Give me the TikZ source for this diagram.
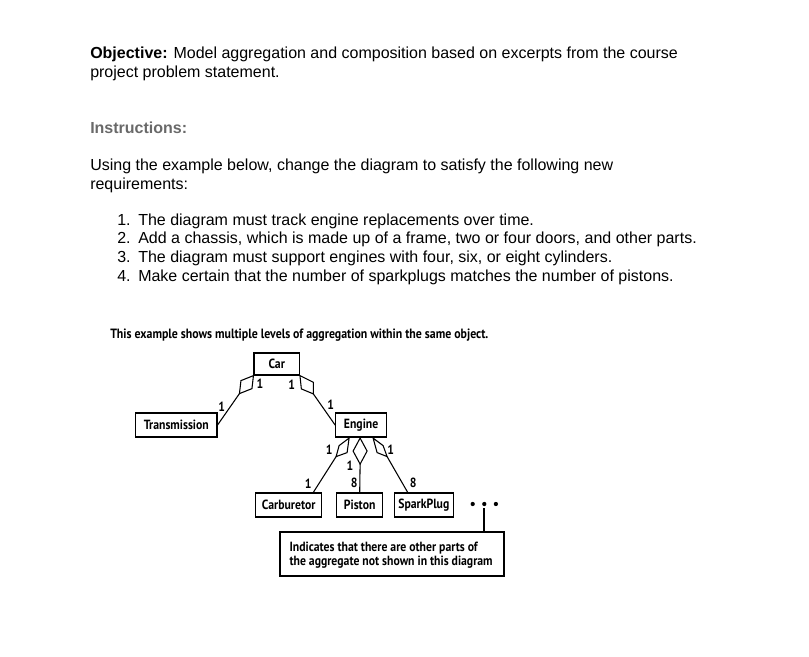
\documentclass[tikz,border=0pt]{standalone}
\usepackage{fontspec}
\setmainfont{Liberation Sans}
\newfontfamily\diafont[FakeStretch=0.88]{PT Sans}
\usetikzlibrary{calc}
\definecolor{instrgray}{RGB}{105,105,105}
\tikzset{
  body/.style={anchor=base west, inner sep=0pt, font=\fontsize{12}{14}\selectfont},
  umlbox/.style={draw, line width=0.9pt, inner sep=0pt, font=\diafont\bfseries\fontsize{10}{12}\selectfont},
  mult/.style={inner sep=0pt, font=\diafont\bfseries\fontsize{10}{12}\selectfont},
  notetxt/.style={anchor=base west, inner sep=0pt, font=\diafont\bfseries\fontsize{10}{12}\selectfont},
  conn/.style={line width=0.8pt},
  diam/.style={line width=0.8pt, fill=white, line join=miter},
  dotmark/.style={circle, fill=black, inner sep=0pt, minimum size=3.2pt},
}
\begin{document}
\begin{tikzpicture}[x=0.75pt, y=-0.75pt]
\useasboundingbox (0,0) rectangle (809,656);
% ---- text ----
\node[body] (obj1) at (90,59) {\textbf{Objective:} Model aggregation and composition based on excerpts from the course};
\node[body] (obj2) at (90,78) {project problem statement.};
\node[body, text=instrgray] (instr) at (90,133) {\textbf{Instructions:}};
\node[body] (use1) at (90,170) {Using the example below, change the diagram to satisfy the following new};
\node[body] (use2) at (90,189) {requirements:};
\node[body] (n1) at (117,225) {1.}; \node[body] (t1) at (138,225) {The diagram must track engine replacements over time.};
\node[body] (n2) at (117,243.7) {2.}; \node[body] (t2) at (138,243.7) {Add a chassis, which is made up of a frame, two or four doors, and other parts.};
\node[body] (n3) at (117,262.4) {3.}; \node[body] (t3) at (138,262.4) {The diagram must support engines with four, six, or eight cylinders.};
\node[body] (n4) at (117,281) {4.}; \node[body] (t4) at (138,281) {Make certain that the number of sparkplugs matches the number of pistons.};
% ---- caption ----
\node[anchor=base west, inner sep=0pt, font=\diafont\bfseries\fontsize{10.1}{12}\selectfont] (cap) at (110,338.5)
  {This example shows multiple levels of aggregation within the same object.};
% ---- boxes ----
\node[umlbox, minimum width=45.3*0.75pt, minimum height=22*0.75pt] (car) at (276.7,364) {Car};
\node[umlbox, minimum width=81.3*0.75pt, minimum height=24*0.75pt] (trans) at (176.3,425) {Transmission};
\node[umlbox, minimum width=50.8*0.75pt, minimum height=24*0.75pt] (engine) at (361.1,425) {Engine};
\node[umlbox, minimum width=66*0.75pt, minimum height=24*0.75pt] (carb) at (288.7,505) {Carburetor};
\node[umlbox, minimum width=46*0.75pt, minimum height=24*0.75pt] (piston) at (359.7,505) {Piston};
\node[umlbox, minimum width=59*0.75pt, minimum height=24*0.75pt] (spark) at (423.8,505) {SparkPlug};
\node[draw, line width=1.4pt, inner sep=0pt, minimum width=224*0.75pt, minimum height=44*0.75pt] (note) at (392.2,553.8) {};
\node[notetxt] (note1) at (289.3,551) {Indicates that there are other parts of};
\node[notetxt] (note2) at (289.3,565) {the aggregate not shown in this diagram};
% ---- dots ----
\node[dotmark] (d1) at (472.7,504) {};
\node[dotmark] (d2) at (484.3,504) {};
\node[dotmark] (d3) at (495.9,504) {};
\coordinate (ntop) at (484.3,531.8);
% ---- connectors ----
% Car - Transmission
\coordinate (a1) at (car.south west);
\draw[conn] ($(a1)+(-14,18)$) -- (trans.east);
\draw[diam] (a1) -- ++(-12.5,5) -- ++(-1.5,13) -- ++(12.5,-5) -- cycle;
% Car - Engine
\coordinate (a2) at (car.south east);
\draw[conn] ($(a2)+(13.4,18.3)$) -- (engine.west);
\draw[diam] (a2) -- ++(13.4,6.7) -- ++(0,11.6) -- ++(-12,-5) -- cycle;
% Engine - Carburetor
\coordinate (e1) at ($(engine.south)+(-12,0.5)$);
\draw[conn] ($(e1)+(-13,18.5)$) -- ($(carb.north east)+(-9,0)$);
\draw[diam] (e1) -- ++(-10,7.5) -- ++(-3,11) -- ++(11,-4) -- cycle;
% Engine - Piston
\coordinate (e2) at ($(engine.south)+(-1,0.5)$);
\draw[conn] ($(e2)+(0,26)$) -- (piston.north);
\draw[diam] (e2) -- ++(-7,13) -- ++(7,13) -- ++(7,-13) -- cycle;
% Engine - SparkPlug
\coordinate (e3) at ($(engine.south)+(12,0.5)$);
\draw[conn] ($(e3)+(14,18.5)$) -- ($(spark.north west)+(14,0)$);
\draw[diam] (e3) -- ++(10,7.5) -- ++(4,11) -- ++(-10,-4) -- cycle;
% dots - note
\draw[line width=1.4pt] ($(d2.south)+(0,2)$) -- (ntop);
% ---- multiplicities ----
\node[mult] (m1) at (260,383.5) {1};
\node[mult] (m2) at (221.7,406.5) {1};
\node[mult] (m3) at (291.7,384.5) {1};
\node[mult] (m4) at (330.7,405) {1};
\node[mult] (m5) at (329.3,449.3) {1};
\node[mult] (m6) at (350,466) {1};
\node[mult] (m7) at (390.7,449.3) {1};
\node[mult] (m8) at (308.3,483.3) {1};
\node[mult] (m9) at (354.3,483.3) {8};
\node[mult] (m10) at (413.3,483.3) {8};
\end{tikzpicture}
\end{document}
